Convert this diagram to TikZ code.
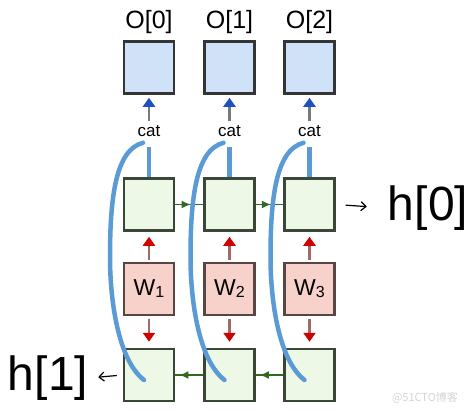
\documentclass[tikz,border=0pt]{standalone}
\usepackage{fontspec}
\setmainfont{Liberation Sans}
\newfontfamily\cjk{Noto Sans CJK SC}
\usetikzlibrary{arrows.meta,decorations.markings}
\definecolor{bluefill}{HTML}{CFE2F7}
\definecolor{greenfill}{HTML}{EDF9E6}
\definecolor{pinkfill}{HTML}{F7D2CB}
\definecolor{boxline}{HTML}{353535}
\definecolor{greenline}{HTML}{3A4738}
\definecolor{pinkline}{HTML}{5A4545}
\definecolor{curveblue}{HTML}{5B9BD5}
\definecolor{stemgray}{HTML}{7A7A7A}
\definecolor{headblue}{HTML}{1F4FC0}
\definecolor{stemred}{HTML}{A06A6A}
\definecolor{headred}{HTML}{D00000}
\definecolor{arrowgreen}{HTML}{2F6A20}
\definecolor{wmgray}{HTML}{D3D3D3}
\begin{document}
\begin{tikzpicture}[x=1pt,y=-1pt,
  box/.style={draw=boxline, line width=2.5pt, minimum width=50pt, minimum height=52pt, inner sep=0pt},
  outbox/.style={box, fill=bluefill},
  hidbox/.style={box, fill=greenfill, draw=greenline},
  wbox/.style={box, fill=pinkfill, draw=pinkline},
  curve/.style={draw=curveblue, line width=4.5pt, line cap=round},
  cattext/.style={inner sep=0pt, font=\fontsize{17}{17}\selectfont},
  toplab/.style={inner sep=0pt, font=\fontsize{25}{25}\selectfont},
  hand/.style={inner sep=0pt, font=\fontsize{48}{48}\selectfont},
  bluearrow/.style={draw=stemgray, line width=2.8pt, -{Triangle[length=9pt,width=12pt,color=headblue]}},
  redarrow/.style={draw=stemred, line width=2.8pt, -{Triangle[length=9pt,width=12pt,color=headred]}},
  greenarrow/.style={draw=arrowgreen, line width=1.6pt, postaction={decorate},
     decoration={markings, mark=at position #1 with {\arrow{Latex[length=9pt,width=8pt]}}}},
  sidearrow/.style={draw=black, line width=1.2pt, -{Straight Barb[length=5pt,width=9pt]}}
]
\useasboundingbox (0,0) rectangle (474,413);

\foreach \i/\x/\j in {1/149/0,2/229.5/1,3/309.5/2}{
  \node[toplab] (lab\i) at (\x,22) {O[\j]};
  \node[outbox] (o\i) at (\x,67.5) {};
  \node[cattext] (cat\i) at (\x,131) {cat};
  \node[hidbox] (t\i) at (\x,204.5) {};
  \node[wbox] (w\i) at (\x,289) {{\fontsize{23}{23}\selectfont W}\raisebox{-2pt}{\fontsize{16}{16}\selectfont \i}};
  \node[hidbox] (b\i) at (\x,375) {};
}

\foreach \i in {1,2,3}{
  \draw[bluearrow, shorten <=4pt, shorten >=3pt] (cat\i.north) -- (o\i.south);
  \draw[redarrow, shorten <=2pt, shorten >=5pt] (w\i.north) -- (t\i.south);
  \draw[redarrow, shorten <=3pt, shorten >=6pt] (w\i.south) -- (b\i.north);
}
\draw[greenarrow=0.55] (t1.east) -- (t2.west);
\draw[greenarrow=0.55] (t2.east) -- (t3.west);
\draw[greenarrow=0.85] (b2.west) -- (b1.east);
\draw[greenarrow=0.85] (b3.west) -- (b2.east);

\foreach \i in {1,2,3}{
  \draw[curve, line cap=butt] (t\i.north) -- ([shift={(0,10)}]cat\i.south);
  \draw[curve] ([shift={(-5,5)}]b\i.center) .. controls +(-26,-20) and +(0,43) .. ([shift={(-39,-118)}]b\i.center) .. controls +(0,-57) and +(-28,7) .. ([shift={(-6,6)}]cat\i.south);
}

\node[hand] (h0) at (428,208) {h[0]};
\node[hand] (h1) at (48,378) {h[1]};
\draw[sidearrow, shorten <=10pt, shorten >=21pt] (t3.east) -- (h0.west);
\draw[sidearrow, shorten <=6pt, shorten >=10pt] (b1.west) -- (h1.east);

\node[inner sep=0pt, text=wmgray, font=\cjk\fontsize{11}{11}\selectfont] (wm) at (425,398) {@51CTO博客};
\end{tikzpicture}
\end{document}
